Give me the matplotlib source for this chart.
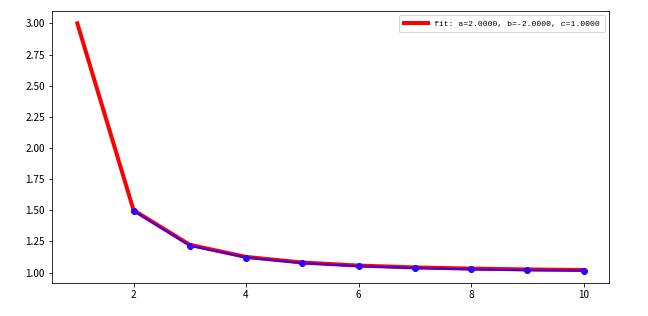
import numpy as np
import matplotlib.pyplot as plt

plt.rcParams['font.family'] = ['Noto Sans CJK SC', 'DejaVu Sans']
plt.rcParams['axes.unicode_minus'] = False

# data
x_fit = [1, 2, 3, 4, 5, 6, 7, 8, 9, 10]
y_fit = [3.0, 1.5, 1.2222, 1.125, 1.08, 1.0556, 1.0408, 1.0313, 1.0247, 1.02]
x_data = [2, 3, 4, 5, 6, 7, 8, 9, 10]
y_data = [1.495, 1.215, 1.12, 1.075, 1.05, 1.035, 1.025, 1.018, 1.015]
fit_label = "fit: a=2.0000, b=-2.0000, c=1.0000"

fig = plt.figure(figsize=(9, 316 / 72), dpi=72)
ax = fig.add_axes([52 / 648, 33 / 316, 557 / 648, 272 / 316])

ax.plot(x_fit, y_fit, color="red", linewidth=4, label=fit_label)
ax.plot(x_data, y_data, "o-", color="#3300ff", linewidth=2, markersize=6)

ax.set_xticks([2, 4, 6, 8, 10])
ax.set_yticks(np.arange(1.0, 3.01, 0.25))
ax.yaxis.set_major_formatter(plt.FormatStrFormatter("%.2f"))
ax.tick_params(labelsize=10)
ax.legend(loc="upper right", prop={"family": "Liberation Mono", "size": 8.1},
          handlelength=3.0, borderpad=0.6)

fig.savefig("out.png", dpi=72)
